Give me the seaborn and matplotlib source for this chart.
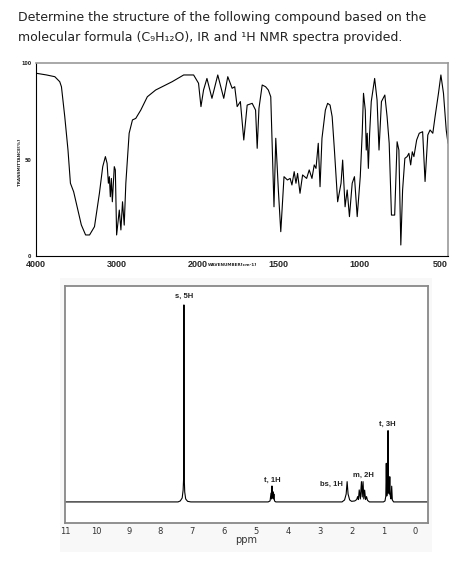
import numpy as np
import pandas as pd
import seaborn as sns
import matplotlib.pyplot as plt
from matplotlib.patches import Rectangle
from matplotlib.ticker import FixedLocator, MultipleLocator

# IR spectrum (wavenumber cm-1, transmittance %)
ir_wavenumber = [4000, 3869, 3767, 3706, 3685, 3644, 3604, 3574, 3534, 3481,
                 3439, 3386, 3337, 3276, 3215, 3174, 3141, 3120, 3104, 3092,
                 3080, 3067, 3055, 3043, 3031, 3018, 3002, 2969, 2949, 2929,
                 2908, 2888, 2847, 2806, 2765, 2703, 2622, 2519, 2438, 2315,
                 2172, 2049, 1994, 1979, 1963, 1942, 1911, 1875, 1838, 1813,
                 1786, 1770, 1755, 1735, 1714, 1693, 1662, 1641, 1631, 1620,
                 1600, 1579, 1562, 1547, 1527, 1516, 1500, 1485, 1465, 1444,
                 1427, 1416, 1402, 1391, 1381, 1366, 1350, 1325, 1309, 1292,
                 1278, 1267, 1253, 1242, 1230, 1209, 1195, 1180, 1167, 1153,
                 1133, 1112, 1102, 1087, 1074, 1060, 1043, 1029, 1012, 993,
                 981, 973, 962, 956, 950, 943, 935, 925, 904, 889,
                 877, 862, 841, 827, 814, 800, 780, 765, 754, 742,
                 731, 717, 703, 692, 681, 671, 661, 644, 628, 607,
                 592, 575, 561, 544, 530, 509, 494, 478, 461, 450]
ir_transmittance = [94.7, 93.8, 92.9, 90.3, 87.7, 72.2, 54.9, 37.7, 33.3, 23.8,
                    16.1, 10.9, 10.9, 15.2, 32.5, 46.3, 51.5, 48.0, 37.7, 41.1,
                    30.7, 40.2, 28.1, 37.7, 46.3, 44.6, 10.9, 23.8, 13.5, 28.1,
                    16.0, 37.7, 63.6, 70.5, 71.3, 75.6, 82.5, 86.0, 87.7, 90.3,
                    93.8, 93.8, 89.5, 77.4, 86.0, 92.0, 81.7, 93.8, 81.7, 92.9,
                    86.9, 87.7, 77.4, 80.0, 60.1, 78.2, 79.1, 75.6, 55.8, 76.5,
                    88.6, 87.7, 86.0, 82.5, 25.5, 61.0, 34.2, 12.6, 41.1, 39.4,
                    40.2, 36.8, 43.7, 37.7, 42.8, 32.5, 42.0, 40.2, 44.6, 40.2,
                    47.2, 45.4, 58.4, 35.9, 61.0, 75.6, 79.1, 78.2, 72.2, 54.9,
                    28.1, 37.7, 49.7, 25.5, 34.2, 20.4, 37.7, 41.1, 20.4, 41.1,
                    63.6, 84.3, 75.6, 54.9, 63.6, 45.4, 63.6, 80.0, 92.0, 80.8,
                    54.9, 80.0, 83.4, 72.2, 58.4, 21.2, 21.2, 59.2, 54.9, 5.7,
                    34.2, 50.6, 51.5, 53.2, 47.2, 54.0, 51.5, 60.1, 63.6, 64.4,
                    38.6, 62.7, 65.3, 63.6, 72.2, 84.3, 93.8, 84.3, 65.3, 58.4]

# 1H NMR spectrum (ppm, relative intensity)
nmr_ppm = [11.0, 7.45, 7.38, 7.32, 7.29, 7.275, 7.265, 7.255, 7.24, 7.21,
           7.15, 7.05, 4.62, 4.56, 4.53, 4.515, 4.50, 4.485, 4.47, 4.455,
           4.44, 4.42, 4.38, 2.30, 2.22, 2.17, 2.14, 2.11, 2.06, 2.00,
           1.90, 1.84, 1.81, 1.785, 1.76, 1.725, 1.69, 1.665, 1.64, 1.615,
           1.59, 1.56, 1.53, 1.50, 1.44, 1.00, 0.95, 0.925, 0.91, 0.895,
           0.87, 0.855, 0.84, 0.815, 0.80, 0.785, 0.76, 0.74, 0.72, 0.68,
           -0.4]
nmr_intensity = [0, 0, 0.5, 2, 6, 12, 100, 12, 5, 1.5,
                 0.3, 0, 0, 0.5, 4.5, 1.5, 8.1, 2, 5.2, 1.5,
                 4, 0.5, 0, 0, 1, 4, 10.3, 4, 1, 0.3,
                 0.5, 1.2, 2.7, 1.2, 6.1, 1.5, 10.3, 2.5, 10.3, 1.5,
                 6.0, 1.2, 2.7, 0.8, 0, 0, 0.5, 3, 19.6, 3,
                 6, 36.2, 5, 4, 12.8, 3, 1.5, 8, 1, 0,
                 0]

nmr_labels = ["s, 5H", "t, 1H", "bs, 1H", "m, 2H", "t, 3H"]
nmr_label_x = [7.26, 4.50, 2.26, 1.63, 0.87]
nmr_label_y = [104.6, 11.2, 9.1, 13.7, 39.6]
nmr_label_ha = ["center", "center", "right", "center", "center"]

ir_df = pd.DataFrame({"wavenumber": ir_wavenumber, "T": ir_transmittance})
nmr_df = pd.DataFrame({"ppm": nmr_ppm, "I": nmr_intensity})

sns.set_style("white")
plt.rcParams["font.family"] = ["DejaVu Sans"]

fig = plt.figure(figsize=(4.66, 5.61), dpi=100)

# faint backdrop behind the NMR picture
fig.patches.append(Rectangle((60 / 466, 1 - 552 / 561), 372 / 466, 274 / 561,
                             transform=fig.transFigure, facecolor="#f8f8f8",
                             edgecolor="none", zorder=-10))

fig.text(18 / 466, 1 - 17 / 561,
         "Determine the structure of the following compound based on the",
         fontsize=9.0, color="#222222", va="center")
fig.text(18 / 466, 1 - 38 / 561,
         "molecular formula (C\u2089H\u2081\u2082O), IR and \u00b9H NMR spectra provided.",
         fontsize=9.0, color="#222222", va="center")

# ---- IR panel ----
ax1 = fig.add_axes([36 / 466, 1 - 256 / 561, 412 / 466, 193 / 561])


def fwd(x):
    x = np.asarray(x, dtype=float)
    return np.where(x > 2000, 2000 + (x - 2000) / 2, x)


def inv(y):
    y = np.asarray(y, dtype=float)
    return np.where(y > 2000, 2000 + (y - 2000) * 2, y)


ax1.set_xscale("function", functions=(fwd, inv))
sns.lineplot(data=ir_df, x="wavenumber", y="T", ax=ax1, color="black",
             linewidth=0.8, estimator=None, sort=False)
ax1.set_xlim(4000, 450)
ax1.set_ylim(0, 100)
ax1.xaxis.set_major_locator(FixedLocator([4000, 3000, 2000, 1500, 1000, 500]))
ax1.xaxis.set_minor_locator(FixedLocator(list(range(3800, 2000, -200)) +
                                         [v for v in range(1900, 450, -100) if v % 500]))
ax1.set_xticklabels(["4000", "3000", "2000", "1500", "1000", "500"],
                    fontsize=6.5, fontweight="bold", family="Liberation Sans")
ax1.yaxis.set_major_locator(FixedLocator([0, 50, 100]))
ax1.yaxis.set_minor_locator(MultipleLocator(10))
ax1.set_yticklabels(["0", "50", "100"], fontsize=3.5, fontweight="bold")
ax1.tick_params(axis="both", which="both", direction="out", length=2,
                width=0.7, pad=1.5, color="black")
ax1.tick_params(axis="x", which="major", pad=1)
ax1.set_xlabel("")
ax1.set_ylabel("")
for side in ["left", "bottom"]:
    ax1.spines[side].set_color("black")
    ax1.spines[side].set_linewidth(0.8)
for side in ["top", "right"]:
    ax1.spines[side].set_color("#999999")
    ax1.spines[side].set_linewidth(1.2)
fig.text(20 / 466, 1 - 162 / 561, "TRANSMITTANCE[%]", rotation=90,
         fontsize=3, fontweight="bold", ha="center", va="center")
fig.text(233 / 466, 1 - 265 / 561, "WAVENUMBER[cm-1]", fontsize=3,
         fontweight="bold", ha="center", va="center")

# ---- NMR panel ----
ax2 = fig.add_axes([65 / 466, 1 - 523 / 561, 363 / 466, 237 / 561])
ax2.set_facecolor("white")
sns.lineplot(data=nmr_df, x="ppm", y="I", ax=ax2, color="black",
             linewidth=0.8, estimator=None, sort=False)
ax2.set_xlim(11, -0.4)
ax2.set_ylim(-10.7, 109.6)
ax2.xaxis.set_major_locator(MultipleLocator(1))
ax2.xaxis.set_minor_locator(MultipleLocator(0.5))
ax2.set_yticks([])
ax2.tick_params(axis="x", which="both", direction="in", length=3,
                width=0.8, color="#333333", labelsize=6, labelcolor="#333333",
                pad=3)
ax2.set_xlabel("ppm", fontsize=7, color="#333333", labelpad=-1)
ax2.set_ylabel("")
for side in ax2.spines.values():
    side.set_color("#888888")
    side.set_linewidth(1.3)

for lab, lx, ly, ha in zip(nmr_labels, nmr_label_x, nmr_label_y, nmr_label_ha):
    ax2.text(lx, ly, lab, fontsize=5.5, fontweight="bold", ha=ha,
             va="center", family="Liberation Sans", color="#222222")

fig.savefig("out.png", dpi=100, facecolor="white")
